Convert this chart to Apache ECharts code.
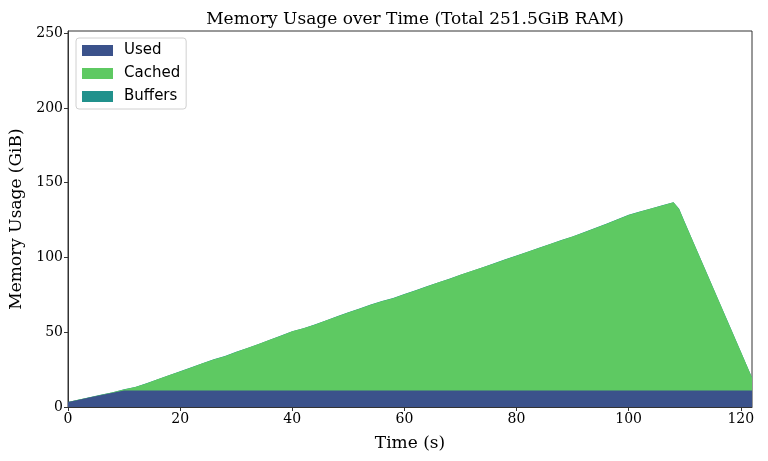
<!doctype html>
<html lang="en">
<head>
    <meta charset="utf-8">
    <title>Memory Usage over Time</title>
    <script src="https://cdn.jsdelivr.net/npm/echarts@6/dist/echarts.min.js"></script>
    <style>
        html, body { margin: 0; padding: 0; background: #fff; }
        #main { width: 768px; height: 461px; }
    </style>
</head>
<body>
    <div id="main"></div>
    <script type="text/javascript">
    // seconds since start
    var times = [0, 2, 4, 6, 8, 10, 12, 14, 16, 18, 20, 22, 24, 26, 28, 30, 32, 34, 36, 38,
                 40, 42, 44, 46, 48, 50, 52, 54, 56, 58, 60, 62, 64, 66, 68, 70, 72, 74, 76, 78,
                 80, 82, 84, 86, 88, 90, 92, 94, 96, 98, 100, 102, 104, 106, 108, 109, 110, 112,
                 114, 116, 118, 120, 122];
    // GiB
    var used = [3.3, 4.9, 6.5, 8.0, 9.6, 11.1, 11.1, 11.1, 11.1, 11.1, 11.1, 11.1, 11.1, 11.1, 11.1, 11.1, 11.1, 11.1, 11.1, 11.1,
                11.1, 11.1, 11.1, 11.1, 11.1, 11.1, 11.1, 11.1, 11.1, 11.1, 11.1, 11.1, 11.1, 11.1, 11.1, 11.1, 11.1, 11.1, 11.1, 11.1,
                11.1, 11.1, 11.1, 11.1, 11.1, 11.1, 11.1, 11.1, 11.1, 11.1, 11.1, 11.1, 11.1, 11.1, 11.1, 11.1, 11.1, 11.1,
                11.1, 11.1, 11.1, 11.1, 11.1];
    var cached = [0, 0.1, 0.1, 0.2, 0.2, 0.6, 2.2, 4.7, 7.4, 10.1, 12.7, 15.4, 18.1, 20.7, 22.9, 25.7, 28.3, 31.0, 33.8, 36.6,
                  39.5, 41.5, 43.9, 46.7, 49.5, 52.1, 54.7, 57.3, 59.7, 61.7, 64.4, 66.9, 69.5, 72.1, 74.6, 77.3, 79.8, 82.3, 84.9, 87.6,
                  90.1, 92.7, 95.3, 97.9, 100.5, 102.9, 105.7, 108.5, 111.3, 114.3, 117.4, 119.5, 121.6, 123.7, 125.8, 121.4, 112.5, 95.2,
                  77.9, 60.6, 43.3, 26.0, 8.6];
    var buffers = [0.1, 0.1, 0.1, 0.1, 0.1, 0.1, 0.1, 0.1, 0.1, 0.1, 0.1, 0.1, 0.1, 0.1, 0.1, 0.1, 0.1, 0.1, 0.1, 0.1,
                   0.1, 0.1, 0.1, 0.1, 0.1, 0.1, 0.1, 0.1, 0.1, 0.1, 0.1, 0.1, 0.1, 0.1, 0.1, 0.1, 0.1, 0.1, 0.1, 0.1,
                   0.1, 0.1, 0.1, 0.1, 0.1, 0.1, 0.1, 0.1, 0.1, 0.1, 0.1, 0.1, 0.1, 0.1, 0.1, 0.1, 0.1, 0.1,
                   0.1, 0.1, 0.1, 0.1, 0.1];
    var totalRam = 251.5;

    var serif = '"DejaVu Serif", serif';
    var sans = '"DejaVu Sans", sans-serif';

    // stack by hand: each band is drawn from 0 up to its cumulative top,
    // lower bands are drawn later so they cover the upper ones
    var layers = [
        { name: 'Used', color: '#3b528b', values: used },
        { name: 'Cached', color: '#5ec962', values: cached },
        { name: 'Buffers', color: '#21918c', values: buffers }
    ];
    var running = times.map(function () { return 0; });
    layers.forEach(function (layer) {
        layer.top = layer.values.map(function (v, i) { running[i] += v; return running[i]; });
    });

    var series = layers.slice().reverse().map(function (layer) {
        return {
            name: layer.name,
            type: 'line',
            symbol: 'none',
            silent: true,
            lineStyle: { width: 0 },
            areaStyle: { color: layer.color, opacity: 1 },
            itemStyle: { color: layer.color },
            data: times.map(function (t, i) { return [t, layer.top[i]]; })
        };
    });

    var chart = echarts.init(document.getElementById('main'), null, { renderer: 'canvas' });

    chart.setOption({
        animation: false,
        backgroundColor: '#fff',
        title: {
            text: 'Memory Usage over Time (Total ' + totalRam + 'GiB RAM)',
            left: 410,
            textAlign: 'center',
            top: 6,
            textStyle: { fontFamily: serif, fontSize: 17, fontWeight: 'normal', color: '#000' }
        },
        legend: {
            orient: 'vertical',
            left: 76,
            top: 38,
            icon: 'rect',
            itemWidth: 31,
            itemHeight: 11,
            itemGap: 8,
            padding: [5, 6, 5, 6],
            borderColor: '#d0d0d0',
            borderWidth: 1,
            borderRadius: 3,
            backgroundColor: '#fff',
            textStyle: { fontFamily: sans, fontSize: 15, color: '#000', padding: [0, 0, 0, 6] },
            data: ['Used', 'Cached', 'Buffers']
        },
        grid: {
            left: 68, right: 16, top: 31, bottom: 54,
            show: true, borderColor: '#333', borderWidth: 1, backgroundColor: 'transparent'
        },
        xAxis: {
            type: 'value',
            min: 0, max: 122, interval: 20,
            name: 'Time (s)',
            nameLocation: 'middle',
            nameGap: 28,
            nameTextStyle: { fontFamily: serif, fontSize: 17, color: '#000' },
            axisLine: { show: true, lineStyle: { color: '#333' } },
            axisTick: { show: true, length: 4, lineStyle: { color: '#333' } },
            axisLabel: { fontFamily: serif, fontSize: 14, color: '#000', margin: 5,
                         showMaxLabel: false },
            splitLine: { show: false }
        },
        yAxis: {
            type: 'value',
            min: 0, max: totalRam, interval: 50,
            name: 'Memory Usage (GiB)',
            nameLocation: 'middle',
            nameGap: 41,
            nameTextStyle: { fontFamily: serif, fontSize: 17, color: '#000' },
            axisLine: { show: true, lineStyle: { color: '#333' } },
            axisTick: { show: true, length: 4, lineStyle: { color: '#333' } },
            axisLabel: { fontFamily: serif, fontSize: 14, color: '#000', margin: 5,
                         showMaxLabel: false },
            splitLine: { show: false }
        },
        series: series
    });
    </script>
</body>
</html>
